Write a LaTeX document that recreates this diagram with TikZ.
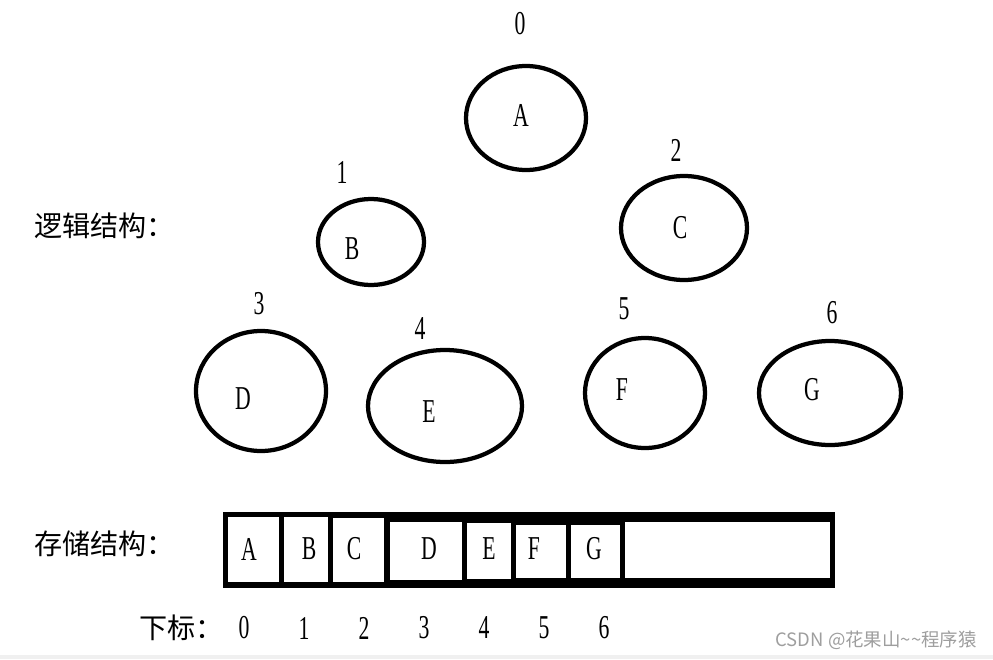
\documentclass[tikz,border=0pt]{standalone}
\usepackage{fontspec}
\setmainfont{Liberation Serif}
\newfontfamily\narrowfont[FakeStretch=0.65]{Liberation Serif}
\newfontfamily\cjkfont{Noto Sans CJK SC}
\usepackage{tikz}

\begin{document}
\begin{tikzpicture}[
	x=0.02cm,
	y=-0.02cm,
	line cap=round,
	line join=round,
	every node/.style={font=\narrowfont\fontsize{19}{19}\selectfont,inner sep=0pt},
	ring/.style={line width=0.085cm},
	cjk/.style={font=\cjkfont\fontsize{16}{16}\selectfont,anchor=west}
	]
	\useasboundingbox (0,0) rectangle (993,659);
	\fill[black!6] (0,655) rectangle (993,659);
	
	% logical structure
	\node[cjk] (logic) at (34,226) {逻辑结构：};
	\foreach \cx/\cy/\rx/\ry in {526/118/60/52,371/242/53/43,684/228/63/52,
		261/391/65/60,445/406/77/56,645/393/60/55,830/393/71/52}
	\draw[ring] (\cx,\cy) ellipse [x radius=\rx,y radius=\ry];
	\foreach \t/\lx/\ly/\nx/\ny [count=\i from 0] in {A/521/115/520/24,B/352/249/342/172,
		C/680/228/676/150,D/243/399/259/304,E/429/412/420/329,
		F/622/390/624/309,G/812/390/832/313}
	{
		\node (t\t) at (\lx,\ly) {\t};
		\node (n\i) at (\nx,\ny) {\i};
	}
	
	% storage structure
	\node[cjk] (store) at (34,544) {存储结构：};
	\fill (223,512) rectangle (835,588);
	\foreach \xa/\xb/\ya/\yb in {228/279/517/582,284/328/517/582,333/384/518/582,
		390/462/522/580,467/511/523/579,516/566/525/578,571/620/525/578,625/830/522/578}
	\fill[white] (\xa,\ya) rectangle (\xb,\yb);
	\foreach \t/\sx in {A/249,B/309,C/354,D/429,E/489,F/534,G/594}
	\node (s\t) at (\sx,549) {\t};
	
	% indices
	\node[cjk] (index) at (139,628) {下标：};
	\foreach \i in {0,...,6}
	\node (k\i) at (244+60*\i,628) {\i};
	
	\node[font=\cjkfont\fontsize{10.5}{10.5}\selectfont,text=black!38,anchor=east]
	(mark) at (977,640) {CSDN @花果山\textasciitilde\textasciitilde 程序猿};
\end{tikzpicture}
\end{document}
